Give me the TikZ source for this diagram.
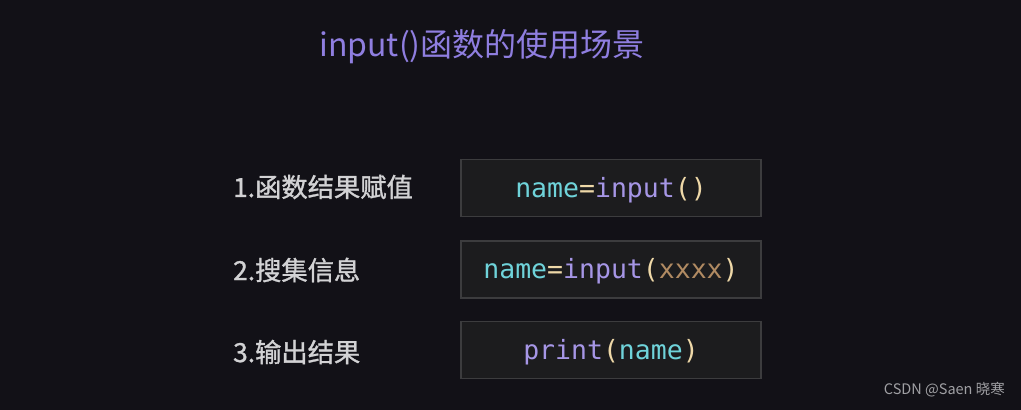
\documentclass[tikz,border=0pt]{standalone}
\usepackage{fontspec}
\newfontfamily\cjk{Noto Sans CJK SC}
\newfontfamily\cjkm[FakeBold=1.2]{Noto Sans CJK SC}
\newfontfamily\code{DejaVu Sans Mono}
\definecolor{bg}{HTML}{121117}
\definecolor{boxfill}{HTML}{1C1C1E}
\definecolor{boxline}{HTML}{3C3C3E}
\definecolor{titlec}{HTML}{8F7EE0}
\definecolor{labelc}{HTML}{D2D2D4}
\definecolor{cyanc}{HTML}{6FD3DA}
\definecolor{purpc}{HTML}{A696E6}
\definecolor{parc}{HTML}{EED8A8}
\definecolor{brownc}{HTML}{B08A62}
\definecolor{wmc}{HTML}{A0A0A4}
\tikzset{
  codebox/.style={draw=boxline, line width=1.2pt, fill=boxfill, minimum width=300pt, minimum height=57pt, inner sep=0pt},
  codetext/.style={inner sep=0pt, font=\code\fontsize{26.5}{28}\selectfont},
  lbl/.style={anchor=west, text=labelc, inner sep=0pt, font=\cjkm\fontsize{26.3}{28}\selectfont},
}
\begin{document}
\begin{tikzpicture}[x=1pt,y=-1pt]
\fill[bg] (0,0) rectangle (1021,410);
\useasboundingbox (0,0) rectangle (1021,410);
\node[text=titlec, font=\cjk\fontsize{32}{34}\selectfont, inner sep=0pt] (title) at (482,47) {input()函数的使用场景};
\node[lbl] (l1) at (233,187) {1.函数结果赋值};
\node[lbl] (l2) at (233,270) {2.搜集信息};
\node[lbl] (l3) at (233,352) {3.输出结果};
\node[codebox] (c1) at (611,188) {};
\node[codebox] (c2) at (611,269.5) {};
\node[codebox] (c3) at (611,350) {};
\node[codetext] (t1) at ([yshift=-2pt]c1.center) {\textcolor{cyanc}{name}\textcolor{parc}{=}\textcolor{purpc}{input}\textcolor{parc}{()}};
\node[codetext] (t2) at ([yshift=-2pt]c2.center) {\textcolor{cyanc}{name}\textcolor{parc}{=}\textcolor{purpc}{input}\textcolor{parc}{(}\textcolor{brownc}{xxxx}\textcolor{parc}{)}};
\node[codetext] (t3) at ([yshift=-2pt]c3.center) {\textcolor{purpc}{print}\textcolor{parc}{(}\textcolor{cyanc}{name}\textcolor{parc}{)}};
\node[anchor=east, text=wmc, inner sep=0pt, font=\cjk\fontsize{14.5}{16}\selectfont] (wm) at (1005,390) {CSDN @Saen 晓寒};
\end{tikzpicture}
\end{document}
